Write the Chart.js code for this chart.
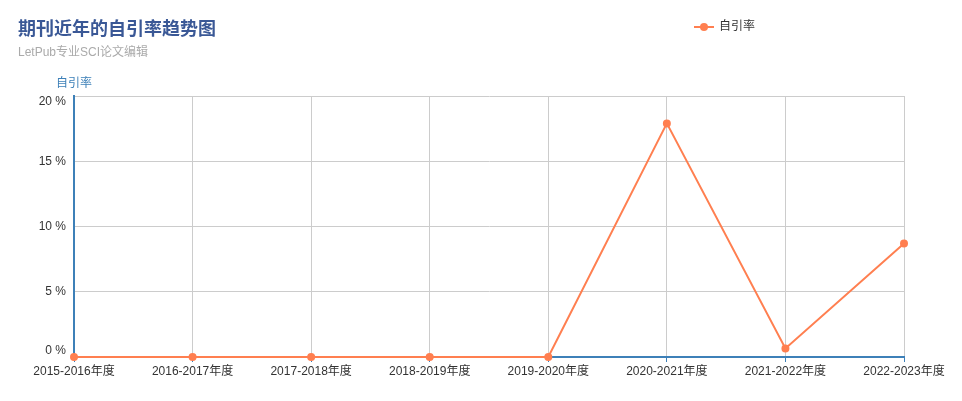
<!DOCTYPE html>
<html>
<head>
<meta charset="utf-8">
<script src="https://cdn.jsdelivr.net/npm/chart.js@4/dist/chart.umd.min.js"></script>
<style>
    html, body { margin: 0; padding: 0; background: #fff; }
    #wrap { position: relative; width: 962px; height: 401px; }
</style>
</head>
<body>
<div id="wrap"><canvas id="selfCiteChart" width="962" height="401"></canvas></div>
<script>
// chart data
const years = ['2015-2016年度', '2016-2017年度', '2017-2018年度', '2018-2019年度',
    '2019-2020年度', '2020-2021年度', '2021-2022年度', '2022-2023年度'];
const selfCiteRate = [0, 0, 0, 0, 0, 17.9, 0.65, 8.7];
const yTicks = [0, 5, 10, 15, 20];

const titleText = '期刊近年的自引率趋势图';
const subtitleText = 'LetPub专业SCI论文编辑';
const seriesName = '自引率';

const FONT = '"Liberation Sans", "Noto Sans CJK SC", sans-serif';
const LINE_COLOR = '#ff7f50';
const AXIS_COLOR = '#3d80b8';

/**
 * Nudge the first and last y labels inward, like the original
 */
const edgeLabelPlugin = {
    id: 'edgeLabels',
    beforeDraw(chart) {
        const items = chart.scales.y.getLabelItems();
        if (!items.length || items._nudged) return;
        const first = items[0].options.translation;
        const last = items[items.length - 1].options.translation;
        first[1] -= 6;
        last[1] += 6;
        items._nudged = true;
    }
};

/**
 * Titles, axis name and legend drawn on the canvas
 */
const headerPlugin = {
    id: 'header',
    afterDraw(chart) {
        const ctx = chart.ctx;
        const area = chart.chartArea;
        ctx.save();
        ctx.textBaseline = 'middle';

        ctx.font = 'bold 18px ' + FONT;
        ctx.fillStyle = '#3a5896';
        ctx.textAlign = 'left';
        ctx.fillText(titleText, 18, 30);

        ctx.font = '12px ' + FONT;
        ctx.fillStyle = '#aaaaaa';
        ctx.fillText(subtitleText, 18, 53);

        // y axis name
        ctx.fillStyle = AXIS_COLOR;
        ctx.textAlign = 'center';
        ctx.fillText(seriesName, area.left, 84);

        // legend
        const lx = 694, ly = 27;
        ctx.strokeStyle = LINE_COLOR;
        ctx.lineWidth = 2;
        ctx.beginPath();
        ctx.moveTo(lx, ly);
        ctx.lineTo(lx + 20, ly);
        ctx.stroke();
        ctx.fillStyle = LINE_COLOR;
        ctx.beginPath();
        ctx.arc(lx + 10, ly, 4, 0, Math.PI * 2);
        ctx.fill();
        ctx.fillStyle = '#333333';
        ctx.textAlign = 'left';
        ctx.fillText(seriesName, lx + 25, ly);
        ctx.restore();
    }
};

const canvas = document.getElementById('selfCiteChart');
new Chart(canvas, {
    type: 'line',
    data: {
        labels: years,
        datasets: [{
            label: seriesName,
            data: selfCiteRate,
            borderColor: LINE_COLOR,
            backgroundColor: LINE_COLOR,
            borderWidth: 2,
            pointRadius: 3,
            pointHoverRadius: 3,
            tension: 0,
            clip: false
        }]
    },
    options: {
        responsive: false,
        animation: false,
        devicePixelRatio: 1,
        layout: { padding: { top: 96, right: 58, bottom: 0, left: 0 } },
        plugins: {
            legend: { display: false },
            title: { display: false },
            tooltip: { enabled: false }
        },
        scales: {
            x: {
                offset: false,
                afterFit: scale => { scale.height = 44; },
                grid: {
                    color: '#cccccc',
                    lineWidth: 1,
                    drawTicks: true,
                    tickLength: 5,
                    tickColor: AXIS_COLOR
                },
                border: { color: AXIS_COLOR, width: 2 },
                ticks: {
                    color: '#333333',
                    font: { family: FONT, size: 12 },
                    padding: 2,
                    maxRotation: 0,
                    autoSkip: false
                }
            },
            y: {
                min: 0,
                max: 20,
                afterFit: scale => { scale.width = 74; },
                afterBuildTicks: scale => {
                    scale.ticks = yTicks.map(v => ({ value: v }));
                },
                grid: { color: '#cccccc', lineWidth: 1, drawTicks: false },
                border: { color: AXIS_COLOR, width: 2 },
                ticks: {
                    color: '#333333',
                    font: { family: FONT, size: 12 },
                    padding: 8,
                    callback: v => v + ' %'
                }
            }
        }
    },
    plugins: [edgeLabelPlugin, headerPlugin]
});
</script>
</body>
</html>
